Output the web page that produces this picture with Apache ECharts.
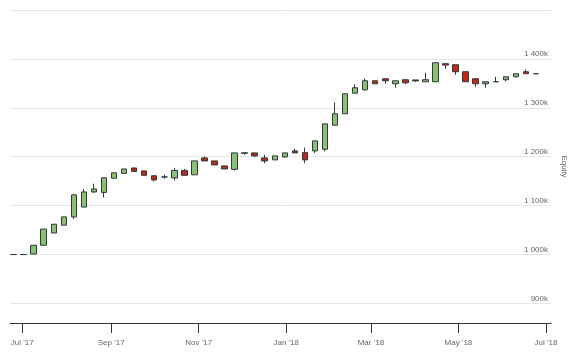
<!DOCTYPE html>
<html>
<head>
<meta charset="utf-8">
<script src="https://cdn.jsdelivr.net/npm/echarts@6/dist/echarts.min.js"></script>
<style>
html,body{margin:0;padding:0;background:#fff;}
#chart{width:580px;height:360px;}
</style>
</head>
<body>
<div id="chart"></div>
<script>
// Weekly candles (week start dates)
var weeks = [
  '2017-06-25','2017-07-02','2017-07-09','2017-07-16','2017-07-23','2017-07-30',
  '2017-08-06','2017-08-13','2017-08-20','2017-08-27','2017-09-03','2017-09-10',
  '2017-09-17','2017-09-24','2017-10-01','2017-10-08','2017-10-15','2017-10-22',
  '2017-10-29','2017-11-05','2017-11-12','2017-11-19','2017-11-26','2017-12-03',
  '2017-12-10','2017-12-17','2017-12-24','2017-12-31','2018-01-07','2018-01-14',
  '2018-01-21','2018-01-28','2018-02-04','2018-02-11','2018-02-18','2018-02-25',
  '2018-03-04','2018-03-11','2018-03-18','2018-03-25','2018-04-01','2018-04-08',
  '2018-04-15','2018-04-22','2018-04-29','2018-05-06','2018-05-13','2018-05-20',
  '2018-05-27','2018-06-03','2018-06-10','2018-06-17','2018-06-24'
];
var openVals = [
  1000000,1000000,1001000,1019000,1044000,1060000,1077000,1097000,1128000,1127000,
  1156000,1166000,1177000,1171000,1161000,1158600,1156600,1172000,1163000,1197600,
  1191400,1181200,1174200,1208000,1207800,1197600,1193500,1199600,1211900,1208400,
  1211900,1215200,1264400,1287700,1329900,1336900,1355300,1359400,1349200,1357400,
  1357000,1353300,1353300,1390200,1388100,1373800,1359400,1349200,1353300,1357400,
  1363500,1373800,1369700
];
var closeVals = [
  1000000,1000000,1019000,1052000,1062000,1077000,1122000,1128000,1134000,1157000,
  1167000,1175000,1170000,1162000,1152500,1158600,1172000,1162000,1191400,1191400,
  1183200,1175000,1207800,1207000,1201700,1191400,1201700,1207800,1207800,1193500,
  1232400,1267200,1287700,1328700,1341000,1355300,1349200,1355300,1355300,1351200,
  1355000,1357400,1392200,1387300,1373800,1353300,1349200,1353300,1353300,1363500,
  1369700,1369700,1369700
];
var lowVals = [
  1000000,1000000,1001000,1019000,1044000,1060000,1072600,1097000,1126000,1116800,
  1156000,1166000,1170000,1162000,1149600,1155100,1151700,1162000,1163000,1191400,
  1183200,1175000,1172200,1204000,1199700,1186500,1193500,1197600,1207800,1186500,
  1207800,1211100,1264400,1287700,1329900,1335000,1349200,1349200,1341000,1348400,
  1353000,1353300,1353300,1379900,1367600,1353300,1343000,1341000,1353300,1354500,
  1362000,1369700,1369700
];
var highVals = [
  1000000,1000000,1019000,1052000,1062000,1077000,1124000,1134000,1144900,1157000,
  1167000,1175000,1177000,1171000,1161000,1163300,1177100,1175000,1191400,1200800,
  1191400,1181200,1207800,1208000,1207800,1203700,1201700,1207800,1216000,1218700,
  1232400,1267200,1310900,1328700,1347700,1360000,1355300,1359400,1355300,1357400,
  1357000,1371700,1392200,1390200,1388100,1373800,1359400,1353300,1363500,1363500,
  1369700,1377900,1369700
];
var tickDates = ['2017-07-01','2017-09-01','2017-11-01','2018-01-01','2018-03-01','2018-05-01','2018-07-01'];
var tickLabels = ["Jul '17","Sep '17","Nov '17","Jan '18","Mar '18","May '18","Jul '18"];
var yGridVals = [900000,1000000,1100000,1200000,1300000,1400000,1500000];
var yLabelVals = [900000,1000000,1100000,1200000,1300000,1400000];

function ts(s){ var p = s.split(/[- :]/).map(Number); return Date.UTC(p[0], p[1]-1, p[2], p[3]||0, p[4]||0); }

var candleData = weeks.map(function(d, i){
  return [ts(d), openVals[i], closeVals[i], lowVals[i], highVals[i]];
});
var tickTs = tickDates.map(ts);

function fmtK(v){
  var k = Math.round(v/1000);
  var s = String(k).replace(/\B(?=(\d{3})+(?!\d))/g, ' ');
  return s + 'k';
}

var chart = echarts.init(document.getElementById('chart'), null, {renderer:'canvas'});
chart.setOption({
  animation:false,
  backgroundColor:'#fff',
  grid:{left:10, right:29, top:10, bottom:37, containLabel:false},
  xAxis:{
    type:'value',
    scale:true,
    min: ts('2017-06-22 12:00'),
    max: ts('2018-07-04 12:00'),
    axisLine:{show:true, onZero:false, lineStyle:{color:'#333', width:1}},
    axisTick:{show:true, length:10, lineStyle:{color:'#333'}, customValues: tickTs},
    axisLabel:{
      customValues: tickTs,
      margin:16,
      fontSize:8,
      color:'#666',
      fontFamily:'Liberation Sans, Arial, sans-serif',
      formatter:function(v){
        var i = tickTs.indexOf(v);
        return i >= 0 ? tickLabels[i] : '';
      }
    },
    splitLine:{show:false}
  },
  yAxis:{
    type:'value',
    position:'right',
    min:860000,
    max:1500000,
    name:'Equity',
    nameLocation:'middle',
    nameRotate:-90,
    nameGap:9,
    nameTextStyle:{fontSize:8, color:'#666', fontFamily:'Liberation Sans, Arial, sans-serif'},
    axisLine:{show:false},
    axisTick:{show:false, customValues: yGridVals},
    axisLabel:{
      customValues: yLabelVals,
      inside:true,
      margin:3,
      verticalAlign:'bottom',
      padding:[0,0,1,0],
      fontSize:8,
      color:'#666',
      fontFamily:'Liberation Sans, Arial, sans-serif',
      formatter:fmtK
    },
    splitLine:{show:true, lineStyle:{color:'#e6e6e6', width:1}}
  },
  series:[{
    type:'candlestick',
    barWidth:6,
    data:candleData,
    itemStyle:{
      color:'#8cbf74',
      color0:'#c0281c',
      borderColor:'#2f3a3a',
      borderColor0:'#2f3a3a',
      borderColorDoji:'#2f3a3a',
      borderWidth:1
    }
  }]
});
</script>
</body>
</html>
